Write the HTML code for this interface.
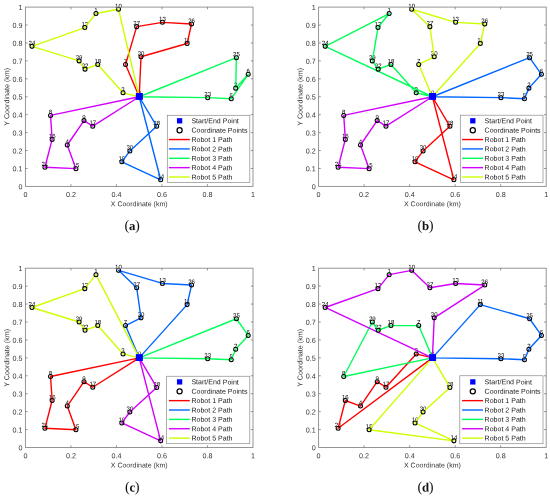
<!DOCTYPE html>
<html><head><meta charset="utf-8"><title>Robot paths</title>
<style>html,body{margin:0;padding:0;background:#fff}svg{display:block}</style></head>
<body>
<svg width="550" height="497" viewBox="0 0 550 497" font-family="'Liberation Sans', Arial, sans-serif" text-rendering="geometricPrecision">
<rect width="550" height="497" fill="#fff"/>
<g><text transform="translate(139.5 94.15) rotate(.05)" font-size="5.5" text-anchor="middle" fill="#111">0</text>
<g font-size="6.1" text-anchor="middle" fill="#000"><text transform="translate(32 45.07) rotate(.05)">24</text><text transform="translate(84.8 26.24) rotate(.05)">12</text><text transform="translate(95.96 12.25) rotate(.05)">1</text><text transform="translate(118.49 7.95) rotate(.05)">10</text><text transform="translate(136.7 25.34) rotate(.05)">27</text><text transform="translate(79.11 59.59) rotate(.05)">29</text><text transform="translate(85.03 67.84) rotate(.05)">22</text><text transform="translate(97.78 63.18) rotate(.05)">18</text><text transform="translate(125.54 63.18) rotate(.05)">7</text><text transform="translate(123.04 91.51) rotate(.05)">3</text><text transform="translate(162.42 21.04) rotate(.05)">13</text><text transform="translate(191.55 22.65) rotate(.05)">26</text><text transform="translate(187.11 42.2) rotate(.05)">11</text><text transform="translate(141.02 55.47) rotate(.05)">20</text><text transform="translate(236.39 56.36) rotate(.05)">25</text><text transform="translate(248.22 73.04) rotate(.05)">6</text><text transform="translate(235.7 86.84) rotate(.05)">2</text><text transform="translate(231.26 97.42) rotate(.05)">5</text><text transform="translate(207.71 96.35) rotate(.05)">23</text><text transform="translate(50.53 114.1) rotate(.05)">8</text><text transform="translate(83.98 119.3) rotate(.05)">9</text><text transform="translate(92.77 124.86) rotate(.05)">17</text><text transform="translate(52.14 138.12) rotate(.05)">16</text><text transform="translate(67.28 143.68) rotate(.05)">4</text><text transform="translate(44.93 165.91) rotate(.05)">21</text><text transform="translate(75.93 167.35) rotate(.05)">15</text><text transform="translate(129.87 149.6) rotate(.05)">30</text><text transform="translate(121.83 160.54) rotate(.05)">19</text><text transform="translate(156.73 125.03) rotate(.05)">28</text><text transform="translate(160.69 178.47) rotate(.05)">14</text></g>
<polyline points="139.2,96.75 125.54,64.48 136.7,26.64 162.42,22.34 191.55,23.95 187.11,43.5 141.02,56.77 139.2,96.75" fill="none" stroke="#ff0000" stroke-width="1.4" stroke-linejoin="round"/>
<polyline points="139.2,96.75 156.73,126.33 129.87,150.9 121.83,161.84 160.69,179.77 139.2,96.75" fill="none" stroke="#0066ff" stroke-width="1.4" stroke-linejoin="round"/>
<polyline points="139.2,96.75 236.39,57.66 235.7,88.14 248.22,74.34 231.26,98.72 207.71,97.65 139.2,96.75" fill="none" stroke="#00ff58" stroke-width="1.4" stroke-linejoin="round"/>
<polyline points="139.2,96.75 50.53,115.4 52.14,139.42 44.93,167.21 75.93,168.65 67.28,144.98 83.98,120.6 92.77,126.16 139.2,96.75" fill="none" stroke="#d400ff" stroke-width="1.4" stroke-linejoin="round"/>
<polyline points="139.2,96.75 118.49,9.25 95.96,13.55 84.8,27.54 32,46.37 79.11,60.89 85.03,69.14 97.78,64.48 123.04,92.81 139.2,96.75" fill="none" stroke="#ccff00" stroke-width="1.4" stroke-linejoin="round"/>
<circle cx="32" cy="46.37" r="2.0" fill="none" stroke="#000" stroke-width="1.05"/>
<circle cx="84.8" cy="27.54" r="2.0" fill="none" stroke="#000" stroke-width="1.05"/>
<circle cx="95.96" cy="13.55" r="2.0" fill="none" stroke="#000" stroke-width="1.05"/>
<circle cx="118.49" cy="9.25" r="2.0" fill="none" stroke="#000" stroke-width="1.05"/>
<circle cx="136.7" cy="26.64" r="2.0" fill="none" stroke="#000" stroke-width="1.05"/>
<circle cx="79.11" cy="60.89" r="2.0" fill="none" stroke="#000" stroke-width="1.05"/>
<circle cx="85.03" cy="69.14" r="2.0" fill="none" stroke="#000" stroke-width="1.05"/>
<circle cx="97.78" cy="64.48" r="2.0" fill="none" stroke="#000" stroke-width="1.05"/>
<circle cx="125.54" cy="64.48" r="2.0" fill="none" stroke="#000" stroke-width="1.05"/>
<circle cx="123.04" cy="92.81" r="2.0" fill="none" stroke="#000" stroke-width="1.05"/>
<circle cx="162.42" cy="22.34" r="2.0" fill="none" stroke="#000" stroke-width="1.05"/>
<circle cx="191.55" cy="23.95" r="2.0" fill="none" stroke="#000" stroke-width="1.05"/>
<circle cx="187.11" cy="43.5" r="2.0" fill="none" stroke="#000" stroke-width="1.05"/>
<circle cx="141.02" cy="56.77" r="2.0" fill="none" stroke="#000" stroke-width="1.05"/>
<circle cx="236.39" cy="57.66" r="2.0" fill="none" stroke="#000" stroke-width="1.05"/>
<circle cx="248.22" cy="74.34" r="2.0" fill="none" stroke="#000" stroke-width="1.05"/>
<circle cx="235.7" cy="88.14" r="2.0" fill="none" stroke="#000" stroke-width="1.05"/>
<circle cx="231.26" cy="98.72" r="2.0" fill="none" stroke="#000" stroke-width="1.05"/>
<circle cx="207.71" cy="97.65" r="2.0" fill="none" stroke="#000" stroke-width="1.05"/>
<circle cx="50.53" cy="115.4" r="2.0" fill="none" stroke="#000" stroke-width="1.05"/>
<circle cx="83.98" cy="120.6" r="2.0" fill="none" stroke="#000" stroke-width="1.05"/>
<circle cx="92.77" cy="126.16" r="2.0" fill="none" stroke="#000" stroke-width="1.05"/>
<circle cx="52.14" cy="139.42" r="2.0" fill="none" stroke="#000" stroke-width="1.05"/>
<circle cx="67.28" cy="144.98" r="2.0" fill="none" stroke="#000" stroke-width="1.05"/>
<circle cx="44.93" cy="167.21" r="2.0" fill="none" stroke="#000" stroke-width="1.05"/>
<circle cx="75.93" cy="168.65" r="2.0" fill="none" stroke="#000" stroke-width="1.05"/>
<circle cx="129.87" cy="150.9" r="2.0" fill="none" stroke="#000" stroke-width="1.05"/>
<circle cx="121.83" cy="161.84" r="2.0" fill="none" stroke="#000" stroke-width="1.05"/>
<circle cx="156.73" cy="126.33" r="2.0" fill="none" stroke="#000" stroke-width="1.05"/>
<circle cx="160.69" cy="179.77" r="2.0" fill="none" stroke="#000" stroke-width="1.05"/>
<rect x="135.85" y="93" width="7" height="6.9" fill="#0000ff"/>
<rect x="25.4" y="7.1" width="227.6" height="179.3" fill="none" stroke="#8a8a8a" stroke-width="0.9"/>
<path d="M25.4 168.47h2.2M253 168.47h-2.2M70.92 186.4v-2.2M70.92 7.1v2.2M25.4 150.54h2.2M253 150.54h-2.2M25.4 132.61h2.2M253 132.61h-2.2M116.44 186.4v-2.2M116.44 7.1v2.2M25.4 114.68h2.2M253 114.68h-2.2M25.4 96.75h2.2M253 96.75h-2.2M161.96 186.4v-2.2M161.96 7.1v2.2M25.4 78.82h2.2M253 78.82h-2.2M25.4 60.89h2.2M253 60.89h-2.2M207.48 186.4v-2.2M207.48 7.1v2.2M25.4 42.96h2.2M253 42.96h-2.2M25.4 25.03h2.2M253 25.03h-2.2" stroke="#6a6a6a" stroke-width="0.7" fill="none"/>
<g font-size="7.2" fill="#363636"><text transform="translate(22.6 189.25) rotate(.05)" text-anchor="end">0</text><text transform="translate(25.4 197.1) rotate(.05)" text-anchor="middle">0</text><text transform="translate(22.6 171.32) rotate(.05)" text-anchor="end">0.1</text><text transform="translate(22.6 153.39) rotate(.05)" text-anchor="end">0.2</text><text transform="translate(70.92 197.1) rotate(.05)" text-anchor="middle">0.2</text><text transform="translate(22.6 135.46) rotate(.05)" text-anchor="end">0.3</text><text transform="translate(22.6 117.53) rotate(.05)" text-anchor="end">0.4</text><text transform="translate(116.44 197.1) rotate(.05)" text-anchor="middle">0.4</text><text transform="translate(22.6 99.6) rotate(.05)" text-anchor="end">0.5</text><text transform="translate(22.6 81.67) rotate(.05)" text-anchor="end">0.6</text><text transform="translate(161.96 197.1) rotate(.05)" text-anchor="middle">0.6</text><text transform="translate(22.6 63.74) rotate(.05)" text-anchor="end">0.7</text><text transform="translate(22.6 45.81) rotate(.05)" text-anchor="end">0.8</text><text transform="translate(207.48 197.1) rotate(.05)" text-anchor="middle">0.8</text><text transform="translate(22.6 27.88) rotate(.05)" text-anchor="end">0.9</text><text transform="translate(22.6 9.95) rotate(.05)" text-anchor="end">1</text><text transform="translate(253 197.1) rotate(.05)" text-anchor="middle">1</text></g>
<text transform="translate(139.2 206.3) rotate(.05)" font-size="7" text-anchor="middle" fill="#363636">X Coordinate (km)</text>
<text transform="translate(9.3,96.75) rotate(-90.05)" font-size="7.15" text-anchor="middle" fill="#363636">Y Coordinate (km)</text>
<rect x="167.3" y="115.3" width="82.5" height="67.3" fill="#fff" stroke="#8a8a8a" stroke-width="0.7"/>
<rect x="176.95" y="118.15" width="5.3" height="5.3" fill="#0000ff"/>
<circle cx="179.6" cy="130.27" r="2.55" fill="none" stroke="#000" stroke-width="1.25"/>
<line x1="168.9" x2="189.8" y1="139.54" y2="139.54" stroke="#ff0000" stroke-width="1.4"/>
<line x1="168.9" x2="189.8" y1="148.91" y2="148.91" stroke="#0066ff" stroke-width="1.4"/>
<line x1="168.9" x2="189.8" y1="158.28" y2="158.28" stroke="#00ff58" stroke-width="1.4"/>
<line x1="168.9" x2="189.8" y1="167.65" y2="167.65" stroke="#d400ff" stroke-width="1.4"/>
<line x1="168.9" x2="189.8" y1="177.02" y2="177.02" stroke="#ccff00" stroke-width="1.4"/>
<g font-size="7.05" fill="#1a1a1a"><text transform="translate(191.4 123.25) rotate(.05)">Start/End Point</text><text transform="translate(191.4 132.62) rotate(.05)">Coordinate Points</text><text transform="translate(191.4 141.99) rotate(.05)">Robot 1 Path</text><text transform="translate(191.4 151.36) rotate(.05)">Robot 2 Path</text><text transform="translate(191.4 160.73) rotate(.05)">Robot 3 Path</text><text transform="translate(191.4 170.1) rotate(.05)">Robot 4 Path</text><text transform="translate(191.4 179.47) rotate(.05)">Robot 5 Path</text></g>
<text transform="translate(132.25 229.9) rotate(.05)" font-family="'Liberation Serif', 'Times New Roman', serif" font-size="14.5" text-anchor="middle" fill="#111">(<tspan font-weight="bold" font-size="12.8" dx="-0.35">a</tspan><tspan dx="-0.35">)</tspan></text></g>
<g><text transform="translate(432.7 94.15) rotate(.05)" font-size="5.5" text-anchor="middle" fill="#111">0</text>
<g font-size="6.1" text-anchor="middle" fill="#000"><text transform="translate(325.2 45.07) rotate(.05)">24</text><text transform="translate(378 26.24) rotate(.05)">12</text><text transform="translate(389.16 12.25) rotate(.05)">1</text><text transform="translate(411.69 7.95) rotate(.05)">10</text><text transform="translate(429.9 25.34) rotate(.05)">27</text><text transform="translate(372.31 59.59) rotate(.05)">29</text><text transform="translate(378.23 67.84) rotate(.05)">22</text><text transform="translate(390.98 63.18) rotate(.05)">18</text><text transform="translate(418.74 63.18) rotate(.05)">7</text><text transform="translate(416.24 91.51) rotate(.05)">3</text><text transform="translate(455.62 21.04) rotate(.05)">13</text><text transform="translate(484.75 22.65) rotate(.05)">26</text><text transform="translate(480.31 42.2) rotate(.05)">11</text><text transform="translate(434.22 55.47) rotate(.05)">20</text><text transform="translate(529.59 56.36) rotate(.05)">25</text><text transform="translate(541.42 73.04) rotate(.05)">6</text><text transform="translate(528.9 86.84) rotate(.05)">2</text><text transform="translate(524.46 97.42) rotate(.05)">5</text><text transform="translate(500.91 96.35) rotate(.05)">23</text><text transform="translate(343.73 114.1) rotate(.05)">8</text><text transform="translate(377.18 119.3) rotate(.05)">9</text><text transform="translate(385.97 124.86) rotate(.05)">17</text><text transform="translate(345.34 138.12) rotate(.05)">16</text><text transform="translate(360.48 143.68) rotate(.05)">4</text><text transform="translate(338.13 165.91) rotate(.05)">21</text><text transform="translate(369.13 167.35) rotate(.05)">15</text><text transform="translate(423.07 149.6) rotate(.05)">30</text><text transform="translate(415.03 160.54) rotate(.05)">19</text><text transform="translate(449.93 125.03) rotate(.05)">28</text><text transform="translate(453.89 178.47) rotate(.05)">14</text></g>
<polyline points="432.4,96.75 449.93,126.33 423.07,150.9 415.03,161.84 453.89,179.77 432.4,96.75" fill="none" stroke="#ff0000" stroke-width="1.4" stroke-linejoin="round"/>
<polyline points="432.4,96.75 529.59,57.66 541.42,74.34 528.9,88.14 524.46,98.72 500.91,97.65 432.4,96.75" fill="none" stroke="#0066ff" stroke-width="1.4" stroke-linejoin="round"/>
<polyline points="432.4,96.75 416.24,92.81 390.98,64.48 378.23,69.14 372.31,60.89 378,27.54 389.16,13.55 325.2,46.37 432.4,96.75" fill="none" stroke="#00ff58" stroke-width="1.4" stroke-linejoin="round"/>
<polyline points="432.4,96.75 343.73,115.4 345.34,139.42 338.13,167.21 369.13,168.65 360.48,144.98 377.18,120.6 385.97,126.16 432.4,96.75" fill="none" stroke="#d400ff" stroke-width="1.4" stroke-linejoin="round"/>
<polyline points="432.4,96.75 418.74,64.48 434.22,56.77 429.9,26.64 411.69,9.25 455.62,22.34 484.75,23.95 480.31,43.5 432.4,96.75" fill="none" stroke="#ccff00" stroke-width="1.4" stroke-linejoin="round"/>
<circle cx="325.2" cy="46.37" r="2.0" fill="none" stroke="#000" stroke-width="1.05"/>
<circle cx="378" cy="27.54" r="2.0" fill="none" stroke="#000" stroke-width="1.05"/>
<circle cx="389.16" cy="13.55" r="2.0" fill="none" stroke="#000" stroke-width="1.05"/>
<circle cx="411.69" cy="9.25" r="2.0" fill="none" stroke="#000" stroke-width="1.05"/>
<circle cx="429.9" cy="26.64" r="2.0" fill="none" stroke="#000" stroke-width="1.05"/>
<circle cx="372.31" cy="60.89" r="2.0" fill="none" stroke="#000" stroke-width="1.05"/>
<circle cx="378.23" cy="69.14" r="2.0" fill="none" stroke="#000" stroke-width="1.05"/>
<circle cx="390.98" cy="64.48" r="2.0" fill="none" stroke="#000" stroke-width="1.05"/>
<circle cx="418.74" cy="64.48" r="2.0" fill="none" stroke="#000" stroke-width="1.05"/>
<circle cx="416.24" cy="92.81" r="2.0" fill="none" stroke="#000" stroke-width="1.05"/>
<circle cx="455.62" cy="22.34" r="2.0" fill="none" stroke="#000" stroke-width="1.05"/>
<circle cx="484.75" cy="23.95" r="2.0" fill="none" stroke="#000" stroke-width="1.05"/>
<circle cx="480.31" cy="43.5" r="2.0" fill="none" stroke="#000" stroke-width="1.05"/>
<circle cx="434.22" cy="56.77" r="2.0" fill="none" stroke="#000" stroke-width="1.05"/>
<circle cx="529.59" cy="57.66" r="2.0" fill="none" stroke="#000" stroke-width="1.05"/>
<circle cx="541.42" cy="74.34" r="2.0" fill="none" stroke="#000" stroke-width="1.05"/>
<circle cx="528.9" cy="88.14" r="2.0" fill="none" stroke="#000" stroke-width="1.05"/>
<circle cx="524.46" cy="98.72" r="2.0" fill="none" stroke="#000" stroke-width="1.05"/>
<circle cx="500.91" cy="97.65" r="2.0" fill="none" stroke="#000" stroke-width="1.05"/>
<circle cx="343.73" cy="115.4" r="2.0" fill="none" stroke="#000" stroke-width="1.05"/>
<circle cx="377.18" cy="120.6" r="2.0" fill="none" stroke="#000" stroke-width="1.05"/>
<circle cx="385.97" cy="126.16" r="2.0" fill="none" stroke="#000" stroke-width="1.05"/>
<circle cx="345.34" cy="139.42" r="2.0" fill="none" stroke="#000" stroke-width="1.05"/>
<circle cx="360.48" cy="144.98" r="2.0" fill="none" stroke="#000" stroke-width="1.05"/>
<circle cx="338.13" cy="167.21" r="2.0" fill="none" stroke="#000" stroke-width="1.05"/>
<circle cx="369.13" cy="168.65" r="2.0" fill="none" stroke="#000" stroke-width="1.05"/>
<circle cx="423.07" cy="150.9" r="2.0" fill="none" stroke="#000" stroke-width="1.05"/>
<circle cx="415.03" cy="161.84" r="2.0" fill="none" stroke="#000" stroke-width="1.05"/>
<circle cx="449.93" cy="126.33" r="2.0" fill="none" stroke="#000" stroke-width="1.05"/>
<circle cx="453.89" cy="179.77" r="2.0" fill="none" stroke="#000" stroke-width="1.05"/>
<rect x="429.05" y="93" width="7" height="6.9" fill="#0000ff"/>
<rect x="318.6" y="7.1" width="227.6" height="179.3" fill="none" stroke="#8a8a8a" stroke-width="0.9"/>
<path d="M318.6 168.47h2.2M546.2 168.47h-2.2M364.12 186.4v-2.2M364.12 7.1v2.2M318.6 150.54h2.2M546.2 150.54h-2.2M318.6 132.61h2.2M546.2 132.61h-2.2M409.64 186.4v-2.2M409.64 7.1v2.2M318.6 114.68h2.2M546.2 114.68h-2.2M318.6 96.75h2.2M546.2 96.75h-2.2M455.16 186.4v-2.2M455.16 7.1v2.2M318.6 78.82h2.2M546.2 78.82h-2.2M318.6 60.89h2.2M546.2 60.89h-2.2M500.68 186.4v-2.2M500.68 7.1v2.2M318.6 42.96h2.2M546.2 42.96h-2.2M318.6 25.03h2.2M546.2 25.03h-2.2" stroke="#6a6a6a" stroke-width="0.7" fill="none"/>
<g font-size="7.2" fill="#363636"><text transform="translate(315.8 189.25) rotate(.05)" text-anchor="end">0</text><text transform="translate(318.6 197.1) rotate(.05)" text-anchor="middle">0</text><text transform="translate(315.8 171.32) rotate(.05)" text-anchor="end">0.1</text><text transform="translate(315.8 153.39) rotate(.05)" text-anchor="end">0.2</text><text transform="translate(364.12 197.1) rotate(.05)" text-anchor="middle">0.2</text><text transform="translate(315.8 135.46) rotate(.05)" text-anchor="end">0.3</text><text transform="translate(315.8 117.53) rotate(.05)" text-anchor="end">0.4</text><text transform="translate(409.64 197.1) rotate(.05)" text-anchor="middle">0.4</text><text transform="translate(315.8 99.6) rotate(.05)" text-anchor="end">0.5</text><text transform="translate(315.8 81.67) rotate(.05)" text-anchor="end">0.6</text><text transform="translate(455.16 197.1) rotate(.05)" text-anchor="middle">0.6</text><text transform="translate(315.8 63.74) rotate(.05)" text-anchor="end">0.7</text><text transform="translate(315.8 45.81) rotate(.05)" text-anchor="end">0.8</text><text transform="translate(500.68 197.1) rotate(.05)" text-anchor="middle">0.8</text><text transform="translate(315.8 27.88) rotate(.05)" text-anchor="end">0.9</text><text transform="translate(315.8 9.95) rotate(.05)" text-anchor="end">1</text><text transform="translate(546.2 197.1) rotate(.05)" text-anchor="middle">1</text></g>
<text transform="translate(432.4 206.3) rotate(.05)" font-size="7" text-anchor="middle" fill="#363636">X Coordinate (km)</text>
<text transform="translate(302.5,96.75) rotate(-90.05)" font-size="7.15" text-anchor="middle" fill="#363636">Y Coordinate (km)</text>
<rect x="460.3" y="115.2" width="82.7" height="67.4" fill="#fff" stroke="#8a8a8a" stroke-width="0.7"/>
<rect x="470.15" y="118.15" width="5.3" height="5.3" fill="#0000ff"/>
<circle cx="472.8" cy="130.27" r="2.55" fill="none" stroke="#000" stroke-width="1.25"/>
<line x1="462.1" x2="483" y1="139.54" y2="139.54" stroke="#ff0000" stroke-width="1.4"/>
<line x1="462.1" x2="483" y1="148.91" y2="148.91" stroke="#0066ff" stroke-width="1.4"/>
<line x1="462.1" x2="483" y1="158.28" y2="158.28" stroke="#00ff58" stroke-width="1.4"/>
<line x1="462.1" x2="483" y1="167.65" y2="167.65" stroke="#d400ff" stroke-width="1.4"/>
<line x1="462.1" x2="483" y1="177.02" y2="177.02" stroke="#ccff00" stroke-width="1.4"/>
<g font-size="7.05" fill="#1a1a1a"><text transform="translate(484.6 123.25) rotate(.05)">Start/End Point</text><text transform="translate(484.6 132.62) rotate(.05)">Coordinate Points</text><text transform="translate(484.6 141.99) rotate(.05)">Robot 1 Path</text><text transform="translate(484.6 151.36) rotate(.05)">Robot 2 Path</text><text transform="translate(484.6 160.73) rotate(.05)">Robot 3 Path</text><text transform="translate(484.6 170.1) rotate(.05)">Robot 4 Path</text><text transform="translate(484.6 179.47) rotate(.05)">Robot 5 Path</text></g>
<text transform="translate(425.45 229.9) rotate(.05)" font-family="'Liberation Serif', 'Times New Roman', serif" font-size="14.5" text-anchor="middle" fill="#111">(<tspan font-weight="bold" font-size="12.8" dx="-0.35">b</tspan><tspan dx="-0.35">)</tspan></text></g>
<g><text transform="translate(139.5 355.25) rotate(.05)" font-size="5.5" text-anchor="middle" fill="#111">0</text>
<g font-size="6.1" text-anchor="middle" fill="#000"><text transform="translate(32 306.17) rotate(.05)">24</text><text transform="translate(84.8 287.34) rotate(.05)">12</text><text transform="translate(95.96 273.35) rotate(.05)">1</text><text transform="translate(118.49 269.05) rotate(.05)">10</text><text transform="translate(136.7 286.44) rotate(.05)">27</text><text transform="translate(79.11 320.69) rotate(.05)">29</text><text transform="translate(85.03 328.94) rotate(.05)">22</text><text transform="translate(97.78 324.28) rotate(.05)">18</text><text transform="translate(125.54 324.28) rotate(.05)">7</text><text transform="translate(123.04 352.61) rotate(.05)">3</text><text transform="translate(162.42 282.14) rotate(.05)">13</text><text transform="translate(191.55 283.75) rotate(.05)">26</text><text transform="translate(187.11 303.3) rotate(.05)">11</text><text transform="translate(141.02 316.57) rotate(.05)">20</text><text transform="translate(236.39 317.46) rotate(.05)">25</text><text transform="translate(248.22 334.14) rotate(.05)">6</text><text transform="translate(235.7 347.94) rotate(.05)">2</text><text transform="translate(231.26 358.52) rotate(.05)">5</text><text transform="translate(207.71 357.45) rotate(.05)">23</text><text transform="translate(50.53 375.2) rotate(.05)">8</text><text transform="translate(83.98 380.4) rotate(.05)">9</text><text transform="translate(92.77 385.96) rotate(.05)">17</text><text transform="translate(52.14 399.22) rotate(.05)">16</text><text transform="translate(67.28 404.78) rotate(.05)">4</text><text transform="translate(44.93 427.01) rotate(.05)">21</text><text transform="translate(75.93 428.45) rotate(.05)">15</text><text transform="translate(129.87 410.7) rotate(.05)">30</text><text transform="translate(121.83 421.64) rotate(.05)">19</text><text transform="translate(156.73 386.13) rotate(.05)">28</text><text transform="translate(160.69 439.57) rotate(.05)">14</text></g>
<polyline points="139.2,357.85 50.53,376.5 52.14,400.52 44.93,428.31 75.93,429.75 67.28,406.08 83.98,381.7 92.77,387.26 139.2,357.85" fill="none" stroke="#ff0000" stroke-width="1.4" stroke-linejoin="round"/>
<polyline points="139.2,357.85 125.54,325.58 141.02,317.87 136.7,287.74 118.49,270.35 162.42,283.44 191.55,285.05 187.11,304.6 139.2,357.85" fill="none" stroke="#0066ff" stroke-width="1.4" stroke-linejoin="round"/>
<polyline points="139.2,357.85 236.39,318.76 248.22,335.44 235.7,349.24 231.26,359.82 207.71,358.75 139.2,357.85" fill="none" stroke="#00ff58" stroke-width="1.4" stroke-linejoin="round"/>
<polyline points="139.2,357.85 156.73,387.43 129.87,412 121.83,422.94 160.69,440.87 139.2,357.85" fill="none" stroke="#d400ff" stroke-width="1.4" stroke-linejoin="round"/>
<polyline points="139.2,357.85 95.96,274.65 84.8,288.64 32,307.47 79.11,321.99 85.03,330.24 97.78,325.58 123.04,353.91 139.2,357.85" fill="none" stroke="#ccff00" stroke-width="1.4" stroke-linejoin="round"/>
<circle cx="32" cy="307.47" r="2.0" fill="none" stroke="#000" stroke-width="1.05"/>
<circle cx="84.8" cy="288.64" r="2.0" fill="none" stroke="#000" stroke-width="1.05"/>
<circle cx="95.96" cy="274.65" r="2.0" fill="none" stroke="#000" stroke-width="1.05"/>
<circle cx="118.49" cy="270.35" r="2.0" fill="none" stroke="#000" stroke-width="1.05"/>
<circle cx="136.7" cy="287.74" r="2.0" fill="none" stroke="#000" stroke-width="1.05"/>
<circle cx="79.11" cy="321.99" r="2.0" fill="none" stroke="#000" stroke-width="1.05"/>
<circle cx="85.03" cy="330.24" r="2.0" fill="none" stroke="#000" stroke-width="1.05"/>
<circle cx="97.78" cy="325.58" r="2.0" fill="none" stroke="#000" stroke-width="1.05"/>
<circle cx="125.54" cy="325.58" r="2.0" fill="none" stroke="#000" stroke-width="1.05"/>
<circle cx="123.04" cy="353.91" r="2.0" fill="none" stroke="#000" stroke-width="1.05"/>
<circle cx="162.42" cy="283.44" r="2.0" fill="none" stroke="#000" stroke-width="1.05"/>
<circle cx="191.55" cy="285.05" r="2.0" fill="none" stroke="#000" stroke-width="1.05"/>
<circle cx="187.11" cy="304.6" r="2.0" fill="none" stroke="#000" stroke-width="1.05"/>
<circle cx="141.02" cy="317.87" r="2.0" fill="none" stroke="#000" stroke-width="1.05"/>
<circle cx="236.39" cy="318.76" r="2.0" fill="none" stroke="#000" stroke-width="1.05"/>
<circle cx="248.22" cy="335.44" r="2.0" fill="none" stroke="#000" stroke-width="1.05"/>
<circle cx="235.7" cy="349.24" r="2.0" fill="none" stroke="#000" stroke-width="1.05"/>
<circle cx="231.26" cy="359.82" r="2.0" fill="none" stroke="#000" stroke-width="1.05"/>
<circle cx="207.71" cy="358.75" r="2.0" fill="none" stroke="#000" stroke-width="1.05"/>
<circle cx="50.53" cy="376.5" r="2.0" fill="none" stroke="#000" stroke-width="1.05"/>
<circle cx="83.98" cy="381.7" r="2.0" fill="none" stroke="#000" stroke-width="1.05"/>
<circle cx="92.77" cy="387.26" r="2.0" fill="none" stroke="#000" stroke-width="1.05"/>
<circle cx="52.14" cy="400.52" r="2.0" fill="none" stroke="#000" stroke-width="1.05"/>
<circle cx="67.28" cy="406.08" r="2.0" fill="none" stroke="#000" stroke-width="1.05"/>
<circle cx="44.93" cy="428.31" r="2.0" fill="none" stroke="#000" stroke-width="1.05"/>
<circle cx="75.93" cy="429.75" r="2.0" fill="none" stroke="#000" stroke-width="1.05"/>
<circle cx="129.87" cy="412" r="2.0" fill="none" stroke="#000" stroke-width="1.05"/>
<circle cx="121.83" cy="422.94" r="2.0" fill="none" stroke="#000" stroke-width="1.05"/>
<circle cx="156.73" cy="387.43" r="2.0" fill="none" stroke="#000" stroke-width="1.05"/>
<circle cx="160.69" cy="440.87" r="2.0" fill="none" stroke="#000" stroke-width="1.05"/>
<rect x="135.85" y="354.1" width="7" height="6.9" fill="#0000ff"/>
<rect x="25.4" y="268.2" width="227.6" height="179.3" fill="none" stroke="#8a8a8a" stroke-width="0.9"/>
<path d="M25.4 429.57h2.2M253 429.57h-2.2M70.92 447.5v-2.2M70.92 268.2v2.2M25.4 411.64h2.2M253 411.64h-2.2M25.4 393.71h2.2M253 393.71h-2.2M116.44 447.5v-2.2M116.44 268.2v2.2M25.4 375.78h2.2M253 375.78h-2.2M25.4 357.85h2.2M253 357.85h-2.2M161.96 447.5v-2.2M161.96 268.2v2.2M25.4 339.92h2.2M253 339.92h-2.2M25.4 321.99h2.2M253 321.99h-2.2M207.48 447.5v-2.2M207.48 268.2v2.2M25.4 304.06h2.2M253 304.06h-2.2M25.4 286.13h2.2M253 286.13h-2.2" stroke="#6a6a6a" stroke-width="0.7" fill="none"/>
<g font-size="7.2" fill="#363636"><text transform="translate(22.6 450.35) rotate(.05)" text-anchor="end">0</text><text transform="translate(25.4 458.2) rotate(.05)" text-anchor="middle">0</text><text transform="translate(22.6 432.42) rotate(.05)" text-anchor="end">0.1</text><text transform="translate(22.6 414.49) rotate(.05)" text-anchor="end">0.2</text><text transform="translate(70.92 458.2) rotate(.05)" text-anchor="middle">0.2</text><text transform="translate(22.6 396.56) rotate(.05)" text-anchor="end">0.3</text><text transform="translate(22.6 378.63) rotate(.05)" text-anchor="end">0.4</text><text transform="translate(116.44 458.2) rotate(.05)" text-anchor="middle">0.4</text><text transform="translate(22.6 360.7) rotate(.05)" text-anchor="end">0.5</text><text transform="translate(22.6 342.77) rotate(.05)" text-anchor="end">0.6</text><text transform="translate(161.96 458.2) rotate(.05)" text-anchor="middle">0.6</text><text transform="translate(22.6 324.84) rotate(.05)" text-anchor="end">0.7</text><text transform="translate(22.6 306.91) rotate(.05)" text-anchor="end">0.8</text><text transform="translate(207.48 458.2) rotate(.05)" text-anchor="middle">0.8</text><text transform="translate(22.6 288.98) rotate(.05)" text-anchor="end">0.9</text><text transform="translate(22.6 271.05) rotate(.05)" text-anchor="end">1</text><text transform="translate(253 458.2) rotate(.05)" text-anchor="middle">1</text></g>
<text transform="translate(139.2 467.4) rotate(.05)" font-size="7" text-anchor="middle" fill="#363636">X Coordinate (km)</text>
<text transform="translate(9.3,357.85) rotate(-90.05)" font-size="7.15" text-anchor="middle" fill="#363636">Y Coordinate (km)</text>
<rect x="166.65" y="376.25" width="83.15" height="67.45" fill="#fff" stroke="#8a8a8a" stroke-width="0.7"/>
<rect x="176.95" y="379.25" width="5.3" height="5.3" fill="#0000ff"/>
<circle cx="179.6" cy="391.37" r="2.55" fill="none" stroke="#000" stroke-width="1.25"/>
<line x1="168.9" x2="189.8" y1="400.64" y2="400.64" stroke="#ff0000" stroke-width="1.4"/>
<line x1="168.9" x2="189.8" y1="410.01" y2="410.01" stroke="#0066ff" stroke-width="1.4"/>
<line x1="168.9" x2="189.8" y1="419.38" y2="419.38" stroke="#00ff58" stroke-width="1.4"/>
<line x1="168.9" x2="189.8" y1="428.75" y2="428.75" stroke="#d400ff" stroke-width="1.4"/>
<line x1="168.9" x2="189.8" y1="438.12" y2="438.12" stroke="#ccff00" stroke-width="1.4"/>
<g font-size="7.05" fill="#1a1a1a"><text transform="translate(191.4 384.35) rotate(.05)">Start/End Point</text><text transform="translate(191.4 393.72) rotate(.05)">Coordinate Points</text><text transform="translate(191.4 403.09) rotate(.05)">Robot 1 Path</text><text transform="translate(191.4 412.46) rotate(.05)">Robot 2 Path</text><text transform="translate(191.4 421.83) rotate(.05)">Robot 3 Path</text><text transform="translate(191.4 431.2) rotate(.05)">Robot 4 Path</text><text transform="translate(191.4 440.57) rotate(.05)">Robot 5 Path</text></g>
<text transform="translate(132.25 491.45) rotate(.05)" font-family="'Liberation Serif', 'Times New Roman', serif" font-size="14.5" text-anchor="middle" fill="#111">(<tspan font-weight="bold" font-size="12.8" dx="-0.35">c</tspan><tspan dx="-0.35">)</tspan></text></g>
<g><text transform="translate(432.7 355.25) rotate(.05)" font-size="5.5" text-anchor="middle" fill="#111">0</text>
<g font-size="6.1" text-anchor="middle" fill="#000"><text transform="translate(325.2 306.17) rotate(.05)">24</text><text transform="translate(378 287.34) rotate(.05)">12</text><text transform="translate(389.16 273.35) rotate(.05)">1</text><text transform="translate(411.69 269.05) rotate(.05)">10</text><text transform="translate(429.9 286.44) rotate(.05)">27</text><text transform="translate(372.31 320.69) rotate(.05)">29</text><text transform="translate(378.23 328.94) rotate(.05)">22</text><text transform="translate(390.98 324.28) rotate(.05)">18</text><text transform="translate(418.74 324.28) rotate(.05)">7</text><text transform="translate(416.24 352.61) rotate(.05)">3</text><text transform="translate(455.62 282.14) rotate(.05)">13</text><text transform="translate(484.75 283.75) rotate(.05)">26</text><text transform="translate(480.31 303.3) rotate(.05)">11</text><text transform="translate(434.22 316.57) rotate(.05)">20</text><text transform="translate(529.59 317.46) rotate(.05)">25</text><text transform="translate(541.42 334.14) rotate(.05)">6</text><text transform="translate(528.9 347.94) rotate(.05)">2</text><text transform="translate(524.46 358.52) rotate(.05)">5</text><text transform="translate(500.91 357.45) rotate(.05)">23</text><text transform="translate(343.73 375.2) rotate(.05)">8</text><text transform="translate(377.18 380.4) rotate(.05)">9</text><text transform="translate(385.97 385.96) rotate(.05)">17</text><text transform="translate(345.34 399.22) rotate(.05)">16</text><text transform="translate(360.48 404.78) rotate(.05)">4</text><text transform="translate(338.13 427.01) rotate(.05)">21</text><text transform="translate(369.13 428.45) rotate(.05)">15</text><text transform="translate(423.07 410.7) rotate(.05)">30</text><text transform="translate(415.03 421.64) rotate(.05)">19</text><text transform="translate(449.93 386.13) rotate(.05)">28</text><text transform="translate(453.89 439.57) rotate(.05)">14</text></g>
<polyline points="432.4,357.85 416.24,353.91 385.97,387.26 377.18,381.7 360.48,406.08 345.34,400.52 338.13,428.31 432.4,357.85" fill="none" stroke="#ff0000" stroke-width="1.4" stroke-linejoin="round"/>
<polyline points="432.4,357.85 480.31,304.6 529.59,318.76 541.42,335.44 528.9,349.24 524.46,359.82 500.91,358.75 432.4,357.85" fill="none" stroke="#0066ff" stroke-width="1.4" stroke-linejoin="round"/>
<polyline points="432.4,357.85 418.74,325.58 390.98,325.58 378.23,330.24 372.31,321.99 343.73,376.5 432.4,357.85" fill="none" stroke="#00ff58" stroke-width="1.4" stroke-linejoin="round"/>
<polyline points="432.4,357.85 325.2,307.47 378,288.64 389.16,274.65 411.69,270.35 429.9,287.74 455.62,283.44 484.75,285.05 434.22,317.87 432.4,357.85" fill="none" stroke="#d400ff" stroke-width="1.4" stroke-linejoin="round"/>
<polyline points="432.4,357.85 449.93,387.43 423.07,412 415.03,422.94 453.89,440.87 369.13,429.75 432.4,357.85" fill="none" stroke="#ccff00" stroke-width="1.4" stroke-linejoin="round"/>
<circle cx="325.2" cy="307.47" r="2.0" fill="none" stroke="#000" stroke-width="1.05"/>
<circle cx="378" cy="288.64" r="2.0" fill="none" stroke="#000" stroke-width="1.05"/>
<circle cx="389.16" cy="274.65" r="2.0" fill="none" stroke="#000" stroke-width="1.05"/>
<circle cx="411.69" cy="270.35" r="2.0" fill="none" stroke="#000" stroke-width="1.05"/>
<circle cx="429.9" cy="287.74" r="2.0" fill="none" stroke="#000" stroke-width="1.05"/>
<circle cx="372.31" cy="321.99" r="2.0" fill="none" stroke="#000" stroke-width="1.05"/>
<circle cx="378.23" cy="330.24" r="2.0" fill="none" stroke="#000" stroke-width="1.05"/>
<circle cx="390.98" cy="325.58" r="2.0" fill="none" stroke="#000" stroke-width="1.05"/>
<circle cx="418.74" cy="325.58" r="2.0" fill="none" stroke="#000" stroke-width="1.05"/>
<circle cx="416.24" cy="353.91" r="2.0" fill="none" stroke="#000" stroke-width="1.05"/>
<circle cx="455.62" cy="283.44" r="2.0" fill="none" stroke="#000" stroke-width="1.05"/>
<circle cx="484.75" cy="285.05" r="2.0" fill="none" stroke="#000" stroke-width="1.05"/>
<circle cx="480.31" cy="304.6" r="2.0" fill="none" stroke="#000" stroke-width="1.05"/>
<circle cx="434.22" cy="317.87" r="2.0" fill="none" stroke="#000" stroke-width="1.05"/>
<circle cx="529.59" cy="318.76" r="2.0" fill="none" stroke="#000" stroke-width="1.05"/>
<circle cx="541.42" cy="335.44" r="2.0" fill="none" stroke="#000" stroke-width="1.05"/>
<circle cx="528.9" cy="349.24" r="2.0" fill="none" stroke="#000" stroke-width="1.05"/>
<circle cx="524.46" cy="359.82" r="2.0" fill="none" stroke="#000" stroke-width="1.05"/>
<circle cx="500.91" cy="358.75" r="2.0" fill="none" stroke="#000" stroke-width="1.05"/>
<circle cx="343.73" cy="376.5" r="2.0" fill="none" stroke="#000" stroke-width="1.05"/>
<circle cx="377.18" cy="381.7" r="2.0" fill="none" stroke="#000" stroke-width="1.05"/>
<circle cx="385.97" cy="387.26" r="2.0" fill="none" stroke="#000" stroke-width="1.05"/>
<circle cx="345.34" cy="400.52" r="2.0" fill="none" stroke="#000" stroke-width="1.05"/>
<circle cx="360.48" cy="406.08" r="2.0" fill="none" stroke="#000" stroke-width="1.05"/>
<circle cx="338.13" cy="428.31" r="2.0" fill="none" stroke="#000" stroke-width="1.05"/>
<circle cx="369.13" cy="429.75" r="2.0" fill="none" stroke="#000" stroke-width="1.05"/>
<circle cx="423.07" cy="412" r="2.0" fill="none" stroke="#000" stroke-width="1.05"/>
<circle cx="415.03" cy="422.94" r="2.0" fill="none" stroke="#000" stroke-width="1.05"/>
<circle cx="449.93" cy="387.43" r="2.0" fill="none" stroke="#000" stroke-width="1.05"/>
<circle cx="453.89" cy="440.87" r="2.0" fill="none" stroke="#000" stroke-width="1.05"/>
<rect x="429.05" y="354.1" width="7" height="6.9" fill="#0000ff"/>
<rect x="318.6" y="268.2" width="227.6" height="179.3" fill="none" stroke="#8a8a8a" stroke-width="0.9"/>
<path d="M318.6 429.57h2.2M546.2 429.57h-2.2M364.12 447.5v-2.2M364.12 268.2v2.2M318.6 411.64h2.2M546.2 411.64h-2.2M318.6 393.71h2.2M546.2 393.71h-2.2M409.64 447.5v-2.2M409.64 268.2v2.2M318.6 375.78h2.2M546.2 375.78h-2.2M318.6 357.85h2.2M546.2 357.85h-2.2M455.16 447.5v-2.2M455.16 268.2v2.2M318.6 339.92h2.2M546.2 339.92h-2.2M318.6 321.99h2.2M546.2 321.99h-2.2M500.68 447.5v-2.2M500.68 268.2v2.2M318.6 304.06h2.2M546.2 304.06h-2.2M318.6 286.13h2.2M546.2 286.13h-2.2" stroke="#6a6a6a" stroke-width="0.7" fill="none"/>
<g font-size="7.2" fill="#363636"><text transform="translate(315.8 450.35) rotate(.05)" text-anchor="end">0</text><text transform="translate(318.6 458.2) rotate(.05)" text-anchor="middle">0</text><text transform="translate(315.8 432.42) rotate(.05)" text-anchor="end">0.1</text><text transform="translate(315.8 414.49) rotate(.05)" text-anchor="end">0.2</text><text transform="translate(364.12 458.2) rotate(.05)" text-anchor="middle">0.2</text><text transform="translate(315.8 396.56) rotate(.05)" text-anchor="end">0.3</text><text transform="translate(315.8 378.63) rotate(.05)" text-anchor="end">0.4</text><text transform="translate(409.64 458.2) rotate(.05)" text-anchor="middle">0.4</text><text transform="translate(315.8 360.7) rotate(.05)" text-anchor="end">0.5</text><text transform="translate(315.8 342.77) rotate(.05)" text-anchor="end">0.6</text><text transform="translate(455.16 458.2) rotate(.05)" text-anchor="middle">0.6</text><text transform="translate(315.8 324.84) rotate(.05)" text-anchor="end">0.7</text><text transform="translate(315.8 306.91) rotate(.05)" text-anchor="end">0.8</text><text transform="translate(500.68 458.2) rotate(.05)" text-anchor="middle">0.8</text><text transform="translate(315.8 288.98) rotate(.05)" text-anchor="end">0.9</text><text transform="translate(315.8 271.05) rotate(.05)" text-anchor="end">1</text><text transform="translate(546.2 458.2) rotate(.05)" text-anchor="middle">1</text></g>
<text transform="translate(432.4 467.4) rotate(.05)" font-size="7" text-anchor="middle" fill="#363636">X Coordinate (km)</text>
<text transform="translate(302.5,357.85) rotate(-90.05)" font-size="7.15" text-anchor="middle" fill="#363636">Y Coordinate (km)</text>
<rect x="459.8" y="375.75" width="83.2" height="67.95" fill="#fff" stroke="#8a8a8a" stroke-width="0.7"/>
<rect x="470.15" y="379.25" width="5.3" height="5.3" fill="#0000ff"/>
<circle cx="472.8" cy="391.37" r="2.55" fill="none" stroke="#000" stroke-width="1.25"/>
<line x1="462.1" x2="483" y1="400.64" y2="400.64" stroke="#ff0000" stroke-width="1.4"/>
<line x1="462.1" x2="483" y1="410.01" y2="410.01" stroke="#0066ff" stroke-width="1.4"/>
<line x1="462.1" x2="483" y1="419.38" y2="419.38" stroke="#00ff58" stroke-width="1.4"/>
<line x1="462.1" x2="483" y1="428.75" y2="428.75" stroke="#d400ff" stroke-width="1.4"/>
<line x1="462.1" x2="483" y1="438.12" y2="438.12" stroke="#ccff00" stroke-width="1.4"/>
<g font-size="7.05" fill="#1a1a1a"><text transform="translate(484.6 384.35) rotate(.05)">Start/End Point</text><text transform="translate(484.6 393.72) rotate(.05)">Coordinate Points</text><text transform="translate(484.6 403.09) rotate(.05)">Robot 1 Path</text><text transform="translate(484.6 412.46) rotate(.05)">Robot 2 Path</text><text transform="translate(484.6 421.83) rotate(.05)">Robot 3 Path</text><text transform="translate(484.6 431.2) rotate(.05)">Robot 4 Path</text><text transform="translate(484.6 440.57) rotate(.05)">Robot 5 Path</text></g>
<text transform="translate(425.45 491.45) rotate(.05)" font-family="'Liberation Serif', 'Times New Roman', serif" font-size="14.5" text-anchor="middle" fill="#111">(<tspan font-weight="bold" font-size="12.8" dx="-0.35">d</tspan><tspan dx="-0.35">)</tspan></text></g>
</svg>
</body></html>
